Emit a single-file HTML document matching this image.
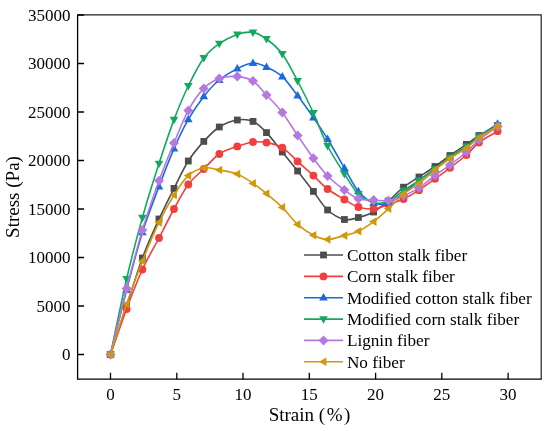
<!DOCTYPE html>
<html><head><meta charset="utf-8"><title>Stress-strain</title>
<style>
html,body{margin:0;padding:0;background:#fff;}
body{width:550px;height:431px;overflow:hidden;}
svg{display:block;}
text{font-family:"Liberation Serif","Times New Roman",serif;fill:#000;}
.tk{font-size:17px;}
.ax{font-size:19px;}
.lg{font-size:17.2px;}
</style></head><body>
<svg width="550" height="431" viewBox="0 0 550 431">
<rect width="550" height="431" fill="#fff"/>

<g stroke="#000" fill="none">
<path d="M77.6 14.9H541.2V379.2" stroke-width="1.2" stroke="#222"/>
<path d="M77.6 14.4V379.2H541.7" stroke-width="1.3"/>
<path d="M77.6 354.5h6.5M77.6 306h6.5M77.6 257.5h6.5M77.6 209h6.5M77.6 160.5h6.5M77.6 112h6.5M77.6 63.5h6.5M77.6 15h6.5M110.5 379.2v-6.5M176.8 379.2v-6.5M243 379.2v-6.5M309.3 379.2v-6.5M375.6 379.2v-6.5M441.8 379.2v-6.5M508.1 379.2v-6.5" stroke-width="1.3"/>
</g>
<text class="tk" x="70.5" y="360.2" text-anchor="end">0</text>
<text class="tk" x="70.5" y="311.7" text-anchor="end">5000</text>
<text class="tk" x="70.5" y="263.2" text-anchor="end">10000</text>
<text class="tk" x="70.5" y="214.7" text-anchor="end">15000</text>
<text class="tk" x="70.5" y="166.2" text-anchor="end">20000</text>
<text class="tk" x="70.5" y="117.7" text-anchor="end">25000</text>
<text class="tk" x="70.5" y="69.2" text-anchor="end">30000</text>
<text class="tk" x="70.5" y="20.7" text-anchor="end">35000</text>
<text class="tk" x="110.5" y="399.8" text-anchor="middle">0</text>
<text class="tk" x="176.8" y="399.8" text-anchor="middle">5</text>
<text class="tk" x="243" y="399.8" text-anchor="middle">10</text>
<text class="tk" x="309.3" y="399.8" text-anchor="middle">15</text>
<text class="tk" x="375.6" y="399.8" text-anchor="middle">20</text>
<text class="tk" x="441.8" y="399.8" text-anchor="middle">25</text>
<text class="tk" x="508.1" y="399.8" text-anchor="middle">30</text>
<text class="ax" x="309.5" y="420.9" text-anchor="middle">Strain (<tspan dx="1.5">%</tspan><tspan dx="1.5">)</tspan></text>
<text class="ax" transform="translate(19.4 197) rotate(-90)" text-anchor="middle">Stress (Pa)</text>
<g>
<path d="M110.5 354.5C113.2 346.4 121.3 322.1 126.6 306C131.9 289.9 137 272.5 142.4 258C147.8 243.5 153.7 230.6 159 219C164.3 207.4 169.1 198.1 174 188.4C178.9 178.7 183.3 168.8 188.3 161C193.3 153.2 198.6 147.1 203.8 141.4C209 135.7 213.7 130.6 219.3 127C224.9 123.4 231.7 120.9 237.3 120C242.9 119.1 248.1 119.3 253 121.4C257.9 123.5 261.6 127.5 266.5 132.6C271.4 137.7 277.1 145.6 282.3 152C287.5 158.4 292.4 164.4 297.6 171C302.8 177.6 308.4 184.9 313.4 191.4C318.4 197.9 322.4 205.3 327.6 210C332.8 214.7 339.3 218.2 344.4 219.5C349.5 220.8 353.5 218.8 358.4 217.5C363.3 216.2 368.6 214.8 373.6 212C378.6 209.2 383.4 205.1 388.4 201C393.4 196.9 398.4 191.2 403.5 187.2C408.6 183.2 413.8 180.4 419 177C424.2 173.6 429.8 170.1 435 166.5C440.2 162.9 444.8 159.2 450 155.5C455.2 151.8 461.6 147.7 466.4 144.4C471.2 141.1 473.8 138.7 479 135.5C484.2 132.3 494.5 127.2 497.6 125.5" fill="none" stroke="#4d4d4d" stroke-width="1.6" stroke-linejoin="round"/>
<rect x="107.1" y="351.1" width="6.8" height="6.8" fill="#4d4d4d"/>
<rect x="123.2" y="302.6" width="6.8" height="6.8" fill="#4d4d4d"/>
<rect x="139" y="254.6" width="6.8" height="6.8" fill="#4d4d4d"/>
<rect x="155.6" y="215.6" width="6.8" height="6.8" fill="#4d4d4d"/>
<rect x="170.6" y="185" width="6.8" height="6.8" fill="#4d4d4d"/>
<rect x="184.9" y="157.6" width="6.8" height="6.8" fill="#4d4d4d"/>
<rect x="200.4" y="138" width="6.8" height="6.8" fill="#4d4d4d"/>
<rect x="215.9" y="123.6" width="6.8" height="6.8" fill="#4d4d4d"/>
<rect x="233.9" y="116.6" width="6.8" height="6.8" fill="#4d4d4d"/>
<rect x="249.6" y="118" width="6.8" height="6.8" fill="#4d4d4d"/>
<rect x="263.1" y="129.2" width="6.8" height="6.8" fill="#4d4d4d"/>
<rect x="278.9" y="148.6" width="6.8" height="6.8" fill="#4d4d4d"/>
<rect x="294.2" y="167.6" width="6.8" height="6.8" fill="#4d4d4d"/>
<rect x="310" y="188" width="6.8" height="6.8" fill="#4d4d4d"/>
<rect x="324.2" y="206.6" width="6.8" height="6.8" fill="#4d4d4d"/>
<rect x="341" y="216.1" width="6.8" height="6.8" fill="#4d4d4d"/>
<rect x="355" y="214.1" width="6.8" height="6.8" fill="#4d4d4d"/>
<rect x="370.2" y="208.6" width="6.8" height="6.8" fill="#4d4d4d"/>
<rect x="385" y="197.6" width="6.8" height="6.8" fill="#4d4d4d"/>
<rect x="400.1" y="183.8" width="6.8" height="6.8" fill="#4d4d4d"/>
<rect x="415.6" y="173.6" width="6.8" height="6.8" fill="#4d4d4d"/>
<rect x="431.6" y="163.1" width="6.8" height="6.8" fill="#4d4d4d"/>
<rect x="446.6" y="152.1" width="6.8" height="6.8" fill="#4d4d4d"/>
<rect x="463" y="141" width="6.8" height="6.8" fill="#4d4d4d"/>
<rect x="475.6" y="132.1" width="6.8" height="6.8" fill="#4d4d4d"/>
<rect x="494.2" y="122.1" width="6.8" height="6.8" fill="#4d4d4d"/>
</g>
<g>
<path d="M110.5 354.5C113.2 346.9 121.3 323.2 126.6 309C131.9 294.8 137 281.3 142.4 269.5C147.8 257.7 153.7 248.1 159 238C164.3 227.9 169.1 217.9 174 209C178.9 200.1 183.3 191.2 188.3 184.5C193.3 177.8 198.6 174.1 203.8 169C209 163.9 213.7 157.8 219.3 154C224.9 150.2 231.7 148.4 237.3 146.4C242.9 144.4 248.1 142.6 253 142C257.9 141.4 261.6 141.7 266.5 142.6C271.4 143.5 277.1 144.5 282.3 147.6C287.5 150.7 292.4 156.7 297.6 161.4C302.8 166.1 308.4 171 313.4 175.6C318.4 180.2 322.4 185 327.6 189C332.8 193 339.3 196.5 344.4 199.5C349.5 202.5 353.5 205.4 358.4 207C363.3 208.6 368.6 209.2 373.6 208.8C378.6 208.4 383.4 206.1 388.4 204.5C393.4 202.9 398.4 201.4 403.5 199C408.6 196.6 413.8 193.6 419 190.2C424.2 186.8 429.8 182.5 435 178.8C440.2 175.1 444.8 171.8 450 167.8C455.2 163.8 461.6 159.2 466.4 155C471.2 150.8 473.8 146.5 479 142.5C484.2 138.5 494.5 133.1 497.6 131.2" fill="none" stroke="#f43e3e" stroke-width="1.6" stroke-linejoin="round"/>
<circle cx="110.5" cy="354.5" r="3.9" fill="#f43e3e"/>
<circle cx="126.6" cy="309" r="3.9" fill="#f43e3e"/>
<circle cx="142.4" cy="269.5" r="3.9" fill="#f43e3e"/>
<circle cx="159" cy="238" r="3.9" fill="#f43e3e"/>
<circle cx="174" cy="209" r="3.9" fill="#f43e3e"/>
<circle cx="188.3" cy="184.5" r="3.9" fill="#f43e3e"/>
<circle cx="203.8" cy="169" r="3.9" fill="#f43e3e"/>
<circle cx="219.3" cy="154" r="3.9" fill="#f43e3e"/>
<circle cx="237.3" cy="146.4" r="3.9" fill="#f43e3e"/>
<circle cx="253" cy="142" r="3.9" fill="#f43e3e"/>
<circle cx="266.5" cy="142.6" r="3.9" fill="#f43e3e"/>
<circle cx="282.3" cy="147.6" r="3.9" fill="#f43e3e"/>
<circle cx="297.6" cy="161.4" r="3.9" fill="#f43e3e"/>
<circle cx="313.4" cy="175.6" r="3.9" fill="#f43e3e"/>
<circle cx="327.6" cy="189" r="3.9" fill="#f43e3e"/>
<circle cx="344.4" cy="199.5" r="3.9" fill="#f43e3e"/>
<circle cx="358.4" cy="207" r="3.9" fill="#f43e3e"/>
<circle cx="373.6" cy="208.8" r="3.9" fill="#f43e3e"/>
<circle cx="388.4" cy="204.5" r="3.9" fill="#f43e3e"/>
<circle cx="403.5" cy="199" r="3.9" fill="#f43e3e"/>
<circle cx="419" cy="190.2" r="3.9" fill="#f43e3e"/>
<circle cx="435" cy="178.8" r="3.9" fill="#f43e3e"/>
<circle cx="450" cy="167.8" r="3.9" fill="#f43e3e"/>
<circle cx="466.4" cy="155" r="3.9" fill="#f43e3e"/>
<circle cx="479" cy="142.5" r="3.9" fill="#f43e3e"/>
<circle cx="497.6" cy="131.2" r="3.9" fill="#f43e3e"/>
</g>
<g>
<path d="M110.5 354.5C113.2 343.8 121.3 310.4 126.6 290C131.9 269.6 137 249.7 142.4 232.4C147.8 215.2 153.7 200.5 159 186.5C164.3 172.5 169.1 159.8 174 148.6C178.9 137.4 183.3 128.1 188.3 119.4C193.3 110.7 198.6 103 203.8 96.4C209 89.8 213.7 84.6 219.3 80C224.9 75.4 231.7 71.4 237.3 68.6C242.9 65.8 248.1 63.3 253 63C257.9 62.7 261.6 64.7 266.5 67C271.4 69.3 277.1 71.8 282.3 76.6C287.5 81.4 292.4 88.8 297.6 95.6C302.8 102.4 308.4 110.4 313.4 117.6C318.4 124.8 322.4 130.6 327.6 139C332.8 147.4 339.3 159.3 344.4 168C349.5 176.7 353.5 185.5 358.4 191.3C363.3 197.1 368.6 201.1 373.6 203C378.6 204.9 383.4 204.7 388.4 203C393.4 201.3 398.4 196.7 403.5 193C408.6 189.3 413.8 184.6 419 180.6C424.2 176.6 429.8 172.8 435 169C440.2 165.2 444.8 161.4 450 157.7C455.2 153.9 461.6 150.1 466.4 146.5C471.2 142.9 473.8 140.1 479 136.3C484.2 132.5 494.5 125.9 497.6 123.8" fill="none" stroke="#1a6adf" stroke-width="1.6" stroke-linejoin="round"/>
<path d="M110.5 349.9L114.8 357.4L106.2 357.4Z" fill="#1a6adf"/>
<path d="M126.6 285.4L130.9 292.9L122.3 292.9Z" fill="#1a6adf"/>
<path d="M142.4 227.8L146.7 235.3L138.1 235.3Z" fill="#1a6adf"/>
<path d="M159 181.9L163.3 189.4L154.7 189.4Z" fill="#1a6adf"/>
<path d="M174 144L178.3 151.5L169.7 151.5Z" fill="#1a6adf"/>
<path d="M188.3 114.8L192.6 122.3L184 122.3Z" fill="#1a6adf"/>
<path d="M203.8 91.8L208.1 99.3L199.5 99.3Z" fill="#1a6adf"/>
<path d="M219.3 75.4L223.6 82.9L215 82.9Z" fill="#1a6adf"/>
<path d="M237.3 64L241.6 71.5L233 71.5Z" fill="#1a6adf"/>
<path d="M253 58.4L257.3 65.9L248.7 65.9Z" fill="#1a6adf"/>
<path d="M266.5 62.4L270.8 69.9L262.2 69.9Z" fill="#1a6adf"/>
<path d="M282.3 72L286.6 79.5L278 79.5Z" fill="#1a6adf"/>
<path d="M297.6 91L301.9 98.5L293.3 98.5Z" fill="#1a6adf"/>
<path d="M313.4 113L317.7 120.5L309.1 120.5Z" fill="#1a6adf"/>
<path d="M327.6 134.4L331.9 141.9L323.3 141.9Z" fill="#1a6adf"/>
<path d="M344.4 163.4L348.7 170.9L340.1 170.9Z" fill="#1a6adf"/>
<path d="M358.4 186.7L362.7 194.2L354.1 194.2Z" fill="#1a6adf"/>
<path d="M373.6 198.4L377.9 205.9L369.3 205.9Z" fill="#1a6adf"/>
<path d="M388.4 198.4L392.7 205.9L384.1 205.9Z" fill="#1a6adf"/>
<path d="M403.5 188.4L407.8 195.9L399.2 195.9Z" fill="#1a6adf"/>
<path d="M419 176L423.3 183.5L414.7 183.5Z" fill="#1a6adf"/>
<path d="M435 164.4L439.3 171.9L430.7 171.9Z" fill="#1a6adf"/>
<path d="M450 153.1L454.3 160.6L445.7 160.6Z" fill="#1a6adf"/>
<path d="M466.4 141.9L470.7 149.4L462.1 149.4Z" fill="#1a6adf"/>
<path d="M479 131.7L483.3 139.2L474.7 139.2Z" fill="#1a6adf"/>
<path d="M497.6 119.2L501.9 126.7L493.3 126.7Z" fill="#1a6adf"/>
</g>
<g>
<path d="M110.5 354.5C113.2 341.9 121.3 301.8 126.6 279C131.9 256.2 137 236.8 142.4 217.6C147.8 198.4 153.7 179.9 159 163.6C164.3 147.3 169.1 132.5 174 119.6C178.9 106.7 183.3 96.3 188.3 86C193.3 75.7 198.6 65.1 203.8 58C209 50.9 213.7 47.5 219.3 43.6C224.9 39.7 231.7 36.3 237.3 34.4C242.9 32.5 248.1 31.6 253 32.4C257.9 33.2 261.6 35.4 266.5 39C271.4 42.6 277.1 47 282.3 54C287.5 61 292.4 71.2 297.6 81C302.8 90.8 308.4 102.2 313.4 113C318.4 123.8 322.4 135.9 327.6 146C332.8 156.1 339.3 165.8 344.4 173.8C349.5 181.8 353.5 189.2 358.4 194C363.3 198.8 368.6 201.2 373.6 202.5C378.6 203.8 383.4 203.5 388.4 201.5C393.4 199.5 398.4 194 403.5 190.5C408.6 187 413.8 183.9 419 180.3C424.2 176.7 429.8 172.6 435 168.8C440.2 165 444.8 161.2 450 157.5C455.2 153.8 461.6 149.8 466.4 146.3C471.2 142.8 473.8 140 479 136.5C484.2 133 494.5 127.2 497.6 125.3" fill="none" stroke="#14a85f" stroke-width="1.6" stroke-linejoin="round"/>
<path d="M110.5 359.1L114.8 351.6L106.2 351.6Z" fill="#14a85f"/>
<path d="M126.6 283.6L130.9 276.1L122.3 276.1Z" fill="#14a85f"/>
<path d="M142.4 222.2L146.7 214.7L138.1 214.7Z" fill="#14a85f"/>
<path d="M159 168.2L163.3 160.7L154.7 160.7Z" fill="#14a85f"/>
<path d="M174 124.2L178.3 116.7L169.7 116.7Z" fill="#14a85f"/>
<path d="M188.3 90.6L192.6 83.1L184 83.1Z" fill="#14a85f"/>
<path d="M203.8 62.6L208.1 55.1L199.5 55.1Z" fill="#14a85f"/>
<path d="M219.3 48.2L223.6 40.7L215 40.7Z" fill="#14a85f"/>
<path d="M237.3 39L241.6 31.5L233 31.5Z" fill="#14a85f"/>
<path d="M253 37L257.3 29.5L248.7 29.5Z" fill="#14a85f"/>
<path d="M266.5 43.6L270.8 36.1L262.2 36.1Z" fill="#14a85f"/>
<path d="M282.3 58.6L286.6 51.1L278 51.1Z" fill="#14a85f"/>
<path d="M297.6 85.6L301.9 78.1L293.3 78.1Z" fill="#14a85f"/>
<path d="M313.4 117.6L317.7 110.1L309.1 110.1Z" fill="#14a85f"/>
<path d="M327.6 150.6L331.9 143.1L323.3 143.1Z" fill="#14a85f"/>
<path d="M344.4 178.4L348.7 170.9L340.1 170.9Z" fill="#14a85f"/>
<path d="M358.4 198.6L362.7 191.1L354.1 191.1Z" fill="#14a85f"/>
<path d="M373.6 207.1L377.9 199.6L369.3 199.6Z" fill="#14a85f"/>
<path d="M388.4 206.1L392.7 198.6L384.1 198.6Z" fill="#14a85f"/>
<path d="M403.5 195.1L407.8 187.6L399.2 187.6Z" fill="#14a85f"/>
<path d="M419 184.9L423.3 177.4L414.7 177.4Z" fill="#14a85f"/>
<path d="M435 173.4L439.3 165.9L430.7 165.9Z" fill="#14a85f"/>
<path d="M450 162.1L454.3 154.6L445.7 154.6Z" fill="#14a85f"/>
<path d="M466.4 150.9L470.7 143.4L462.1 143.4Z" fill="#14a85f"/>
<path d="M479 141.1L483.3 133.6L474.7 133.6Z" fill="#14a85f"/>
<path d="M497.6 129.9L501.9 122.4L493.3 122.4Z" fill="#14a85f"/>
</g>
<g>
<path d="M110.5 354.5C113.2 343.5 121.3 309.1 126.6 288.4C131.9 267.6 137 247.9 142.4 230C147.8 212.1 153.7 195.2 159 180.7C164.3 166.2 169.1 154.7 174 143C178.9 131.3 183.3 119.5 188.3 110.4C193.3 101.3 198.6 93.7 203.8 88.4C209 83.1 213.7 80.4 219.3 78.4C224.9 76.4 231.7 76.2 237.3 76.6C242.9 77 248.1 77.9 253 81C257.9 84.1 261.6 89.8 266.5 95C271.4 100.2 277.1 105.7 282.3 112.4C287.5 119.1 292.4 127.8 297.6 135.4C302.8 143 308.4 151.4 313.4 158.2C318.4 165 322.4 170.7 327.6 176C332.8 181.3 339.3 186.2 344.4 190C349.5 193.8 353.5 197.1 358.4 198.8C363.3 200.5 368.6 199.7 373.6 200C378.6 200.3 383.4 201.4 388.4 200.7C393.4 200 398.4 197.8 403.5 195.6C408.6 193.4 413.8 191.2 419 187.8C424.2 184.5 429.8 179.3 435 175.5C440.2 171.7 444.8 168.8 450 164.9C455.2 161 461.6 156.2 466.4 152C471.2 147.8 473.8 144.2 479 140C484.2 135.8 494.5 128.8 497.6 126.5" fill="none" stroke="#b577e0" stroke-width="1.6" stroke-linejoin="round"/>
<path d="M110.5 349.5L115.5 354.5L110.5 359.5L105.5 354.5Z" fill="#b577e0"/>
<path d="M126.6 283.4L131.6 288.4L126.6 293.4L121.6 288.4Z" fill="#b577e0"/>
<path d="M142.4 225L147.4 230L142.4 235L137.4 230Z" fill="#b577e0"/>
<path d="M159 175.7L164 180.7L159 185.7L154 180.7Z" fill="#b577e0"/>
<path d="M174 138L179 143L174 148L169 143Z" fill="#b577e0"/>
<path d="M188.3 105.4L193.3 110.4L188.3 115.4L183.3 110.4Z" fill="#b577e0"/>
<path d="M203.8 83.4L208.8 88.4L203.8 93.4L198.8 88.4Z" fill="#b577e0"/>
<path d="M219.3 73.4L224.3 78.4L219.3 83.4L214.3 78.4Z" fill="#b577e0"/>
<path d="M237.3 71.6L242.3 76.6L237.3 81.6L232.3 76.6Z" fill="#b577e0"/>
<path d="M253 76L258 81L253 86L248 81Z" fill="#b577e0"/>
<path d="M266.5 90L271.5 95L266.5 100L261.5 95Z" fill="#b577e0"/>
<path d="M282.3 107.4L287.3 112.4L282.3 117.4L277.3 112.4Z" fill="#b577e0"/>
<path d="M297.6 130.4L302.6 135.4L297.6 140.4L292.6 135.4Z" fill="#b577e0"/>
<path d="M313.4 153.2L318.4 158.2L313.4 163.2L308.4 158.2Z" fill="#b577e0"/>
<path d="M327.6 171L332.6 176L327.6 181L322.6 176Z" fill="#b577e0"/>
<path d="M344.4 185L349.4 190L344.4 195L339.4 190Z" fill="#b577e0"/>
<path d="M358.4 193.8L363.4 198.8L358.4 203.8L353.4 198.8Z" fill="#b577e0"/>
<path d="M373.6 195L378.6 200L373.6 205L368.6 200Z" fill="#b577e0"/>
<path d="M388.4 195.7L393.4 200.7L388.4 205.7L383.4 200.7Z" fill="#b577e0"/>
<path d="M403.5 190.6L408.5 195.6L403.5 200.6L398.5 195.6Z" fill="#b577e0"/>
<path d="M419 182.8L424 187.8L419 192.8L414 187.8Z" fill="#b577e0"/>
<path d="M435 170.5L440 175.5L435 180.5L430 175.5Z" fill="#b577e0"/>
<path d="M450 159.9L455 164.9L450 169.9L445 164.9Z" fill="#b577e0"/>
<path d="M466.4 147L471.4 152L466.4 157L461.4 152Z" fill="#b577e0"/>
<path d="M479 135L484 140L479 145L474 140Z" fill="#b577e0"/>
<path d="M497.6 121.5L502.6 126.5L497.6 131.5L492.6 126.5Z" fill="#b577e0"/>
</g>
<g>
<path d="M110.5 354.5C113.2 346.1 121.3 319.6 126.6 304C131.9 288.4 137 274.6 142.4 261C147.8 247.4 153.7 233.4 159 222.4C164.3 211.4 169.1 202.8 174 195C178.9 187.2 183.3 180.1 188.3 175.6C193.3 171.1 198.6 168.9 203.8 168C209 167.1 213.7 169 219.3 170C224.9 171 231.7 171.8 237.3 174C242.9 176.2 248.1 180.1 253 183.4C257.9 186.7 261.6 189.6 266.5 193.6C271.4 197.6 277.1 202.3 282.3 207.4C287.5 212.5 292.4 219.8 297.6 224.4C302.8 229 308.4 232.7 313.4 235.2C318.4 237.7 322.4 239.3 327.6 239.4C332.8 239.5 339.3 236.9 344.4 235.6C349.5 234.2 353.5 233.6 358.4 231.3C363.3 229 368.6 225.3 373.6 221.6C378.6 217.8 383.4 213.4 388.4 208.8C393.4 204.2 398.4 198.2 403.5 194C408.6 189.8 413.8 187.5 419 183.5C424.2 179.5 429.8 174 435 169.8C440.2 165.6 444.8 162.1 450 158.5C455.2 154.9 461.6 151.5 466.4 148C471.2 144.5 473.8 141.3 479 137.7C484.2 134.1 494.5 128.2 497.6 126.3" fill="none" stroke="#d0980a" stroke-width="1.6" stroke-linejoin="round"/>
<path d="M105.9 354.5L113.4 350.2L113.4 358.8Z" fill="#d0980a"/>
<path d="M122 304L129.5 299.7L129.5 308.3Z" fill="#d0980a"/>
<path d="M137.8 261L145.3 256.7L145.3 265.3Z" fill="#d0980a"/>
<path d="M154.4 222.4L161.9 218.1L161.9 226.7Z" fill="#d0980a"/>
<path d="M169.4 195L176.9 190.7L176.9 199.3Z" fill="#d0980a"/>
<path d="M183.7 175.6L191.2 171.3L191.2 179.9Z" fill="#d0980a"/>
<path d="M199.2 168L206.7 163.7L206.7 172.3Z" fill="#d0980a"/>
<path d="M214.7 170L222.2 165.7L222.2 174.3Z" fill="#d0980a"/>
<path d="M232.7 174L240.2 169.7L240.2 178.3Z" fill="#d0980a"/>
<path d="M248.4 183.4L255.9 179.1L255.9 187.7Z" fill="#d0980a"/>
<path d="M261.9 193.6L269.4 189.3L269.4 197.9Z" fill="#d0980a"/>
<path d="M277.7 207.4L285.2 203.1L285.2 211.7Z" fill="#d0980a"/>
<path d="M293 224.4L300.5 220.1L300.5 228.7Z" fill="#d0980a"/>
<path d="M308.8 235.2L316.3 230.9L316.3 239.5Z" fill="#d0980a"/>
<path d="M323 239.4L330.5 235.1L330.5 243.7Z" fill="#d0980a"/>
<path d="M339.8 235.6L347.3 231.3L347.3 239.9Z" fill="#d0980a"/>
<path d="M353.8 231.3L361.3 227L361.3 235.6Z" fill="#d0980a"/>
<path d="M369 221.6L376.5 217.3L376.5 225.9Z" fill="#d0980a"/>
<path d="M383.8 208.8L391.3 204.5L391.3 213.1Z" fill="#d0980a"/>
<path d="M398.9 194L406.4 189.7L406.4 198.3Z" fill="#d0980a"/>
<path d="M414.4 183.5L421.9 179.2L421.9 187.8Z" fill="#d0980a"/>
<path d="M430.4 169.8L437.9 165.5L437.9 174.1Z" fill="#d0980a"/>
<path d="M445.4 158.5L452.9 154.2L452.9 162.8Z" fill="#d0980a"/>
<path d="M461.8 148L469.3 143.7L469.3 152.3Z" fill="#d0980a"/>
<path d="M474.4 137.7L481.9 133.4L481.9 142Z" fill="#d0980a"/>
<path d="M493 126.3L500.5 122L500.5 130.6Z" fill="#d0980a"/>
</g>
<path d="M304 255H343" stroke="#4d4d4d" stroke-width="1.6"/>
<rect x="320.1" y="251.6" width="6.8" height="6.8" fill="#4d4d4d"/>
<text class="lg" x="346.9" y="260.8">Cotton stalk fiber</text>
<path d="M304 276.4H343" stroke="#f43e3e" stroke-width="1.6"/>
<circle cx="323.5" cy="276.4" r="3.9" fill="#f43e3e"/>
<text class="lg" x="346.9" y="282.2">Corn stalk fiber</text>
<path d="M304 297.7H343" stroke="#1a6adf" stroke-width="1.6"/>
<path d="M323.5 293.1L327.8 300.6L319.2 300.6Z" fill="#1a6adf"/>
<text class="lg" x="346.9" y="303.5">Modified cotton stalk fiber</text>
<path d="M304 319.1H343" stroke="#14a85f" stroke-width="1.6"/>
<path d="M323.5 323.7L327.8 316.2L319.2 316.2Z" fill="#14a85f"/>
<text class="lg" x="346.9" y="324.9">Modified corn stalk fiber</text>
<path d="M304 340.4H343" stroke="#b577e0" stroke-width="1.6"/>
<path d="M323.5 335.4L328.5 340.4L323.5 345.4L318.5 340.4Z" fill="#b577e0"/>
<text class="lg" x="346.9" y="346.2">Lignin fiber</text>
<path d="M304 361.8H343" stroke="#d0980a" stroke-width="1.6"/>
<path d="M318.9 361.8L326.4 357.4L326.4 366.1Z" fill="#d0980a"/>
<text class="lg" x="346.9" y="367.6">No fiber</text>
</svg></body></html>
